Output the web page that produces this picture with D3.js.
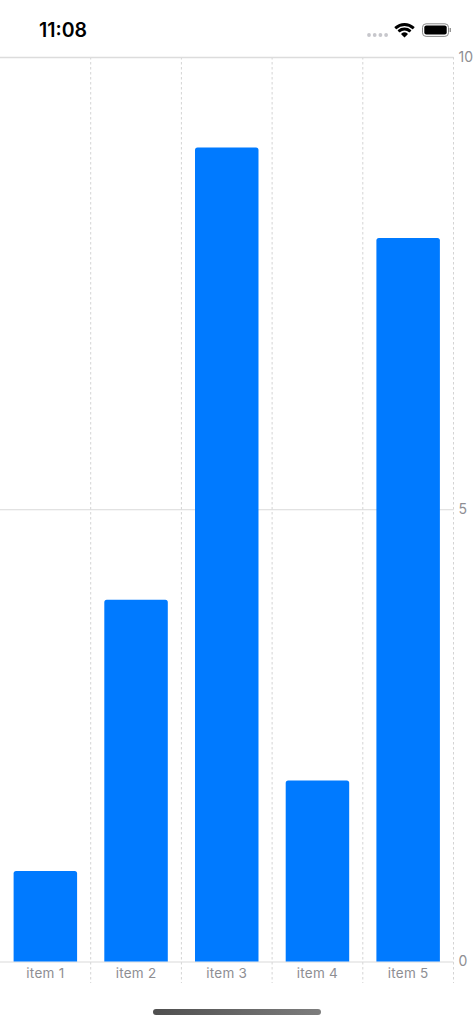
<!DOCTYPE html>
<html>
<head>
<meta charset="utf-8">
<script src="https://cdn.jsdelivr.net/npm/d3@7"></script>
<style>
  html, body { margin: 0; padding: 0; background: #fff; }
  svg { display: block; font-family: Inter, "Noto Sans", sans-serif; }
</style>
</head>
<body>
<svg id="chart" width="474" height="1025"></svg>
<script>
var categories = ['item 1', 'item 2', 'item 3', 'item 4', 'item 5'];
var seriesValues = [1, 4, 9, 2, 8];
var yTicks = [0, 5, 10];
var statusTime = '11:08';
var signalDots = [0, 1, 2, 3];
var wifiBands = [[0, 5], [7, 10], [11.5, 14.5]];

var PLOT_RIGHT = 453.5;
var PLOT_TOP = 57;
var PLOT_BOTTOM = 961.5;
var GRID_BOTTOM = 983;
var BAR_RADIUS = 2.5;
var LABEL_COLOR = '#8e8e93';
var GRID_COLOR = '#d4d4d4';

var svg = d3.select('#chart');

var x = d3.scaleBand()
  .domain(categories)
  .range([0, PLOT_RIGHT])
  .paddingInner(0.3)
  .paddingOuter(0.15);

var y = d3.scaleLinear()
  .domain([0, 10])
  .range([PLOT_BOTTOM, PLOT_TOP]);

// vertical dashed lines sit on the band edges, not the band centres
var bandEdge = function(d) {
  return x(d) + x.bandwidth() + x.step() * 0.15;
};

svg.append('g')
  .selectAll('line')
  .data(categories)
  .enter()
  .append('line')
  .attr('x1', bandEdge)
  .attr('x2', bandEdge)
  .attr('y1', PLOT_TOP)
  .attr('y2', GRID_BOTTOM)
  .attr('stroke', GRID_COLOR)
  .attr('stroke-width', 1)
  .attr('stroke-dasharray', '2.5,2.5');

var yAxis = d3.axisRight(y)
  .tickValues(yTicks)
  .tickSizeInner(-PLOT_RIGHT)
  .tickSizeOuter(0)
  .tickPadding(5);

var yAxisG = svg.append('g')
  .attr('transform', 'translate(' + PLOT_RIGHT + ',0)')
  .call(yAxis);
yAxisG.select('.domain').remove();
yAxisG.selectAll('line')
  .attr('stroke', function(d) { return d === 10 ? '#dcdcdc' : '#d9d9d9'; })
  .attr('stroke-width', function(d) { return d === 10 ? 1.4 : 1; });
yAxisG.selectAll('text')
  .attr('fill', LABEL_COLOR)
  .attr('font-size', 14)
  .attr('font-family', 'Inter, "Noto Sans", sans-serif');

var barPath = function(d, i) {
  var left = x(categories[i]);
  var right = left + x.bandwidth();
  var top = y(d);
  var p = d3.path();
  p.moveTo(left, PLOT_BOTTOM);
  p.lineTo(left, top + BAR_RADIUS);
  p.arcTo(left, top, left + BAR_RADIUS, top, BAR_RADIUS);
  p.lineTo(right - BAR_RADIUS, top);
  p.arcTo(right, top, right, top + BAR_RADIUS, BAR_RADIUS);
  p.lineTo(right, PLOT_BOTTOM);
  p.closePath();
  return p.toString();
};

svg.append('g')
  .selectAll('path')
  .data(seriesValues)
  .enter()
  .append('path')
  .attr('d', barPath)
  .attr('fill', '#007aff');

var xAxis = d3.axisBottom(x)
  .tickSize(0)
  .tickPadding(6.5);

var xAxisG = svg.append('g')
  .attr('transform', 'translate(0,' + PLOT_BOTTOM + ')')
  .call(xAxis);
xAxisG.select('.domain').remove();
xAxisG.selectAll('text')
  .attr('fill', LABEL_COLOR)
  .attr('font-size', 13.5)
  .attr('letter-spacing', 0.25)
  .attr('font-family', 'Inter, "Noto Sans", sans-serif');

// status bar
svg.append('text')
  .attr('x', 39)
  .attr('y', 37)
  .attr('font-size', 19.5)
  .attr('font-weight', 600)
  .attr('fill', '#000')
  .text(statusTime);

svg.append('g')
  .selectAll('circle')
  .data(signalDots)
  .enter()
  .append('circle')
  .attr('cx', function(d) { return 369 + d * 5.7; })
  .attr('cy', 35)
  .attr('r', 1.9)
  .attr('fill', '#c7c7cc');

var wifiArc = d3.arc()
  .startAngle(-Math.PI / 4)
  .endAngle(Math.PI / 4)
  .innerRadius(function(d) { return d[0]; })
  .outerRadius(function(d) { return d[1]; })
  .cornerRadius(0.6);

svg.append('g')
  .attr('transform', 'translate(404.5,37.5)')
  .selectAll('path')
  .data(wifiBands)
  .enter()
  .append('path')
  .attr('d', wifiArc)
  .attr('fill', '#000');

var battery = svg.append('g');
battery.append('rect')
  .attr('x', 422.5)
  .attr('y', 23.8)
  .attr('width', 26)
  .attr('height', 12.6)
  .attr('rx', 3.6)
  .attr('fill', 'none')
  .attr('stroke', '#8a8a8a')
  .attr('stroke-width', 1);
battery.append('rect')
  .attr('x', 424.3)
  .attr('y', 25.6)
  .attr('width', 22.4)
  .attr('height', 9)
  .attr('rx', 2)
  .attr('fill', '#000');
battery.append('rect')
  .attr('x', 449.6)
  .attr('y', 28)
  .attr('width', 1.3)
  .attr('height', 4)
  .attr('fill', '#8a8a8a');

// home indicator
var grad = svg.append('defs')
  .append('linearGradient')
  .attr('id', 'home');
grad.append('stop').attr('offset', '0%').attr('stop-color', '#4f4f4f');
grad.append('stop').attr('offset', '100%').attr('stop-color', '#7d7d7d');

svg.append('rect')
  .attr('x', 153)
  .attr('y', 1009)
  .attr('width', 168)
  .attr('height', 6)
  .attr('rx', 3)
  .attr('fill', 'url(#home)');
</script>
</body>
</html>
